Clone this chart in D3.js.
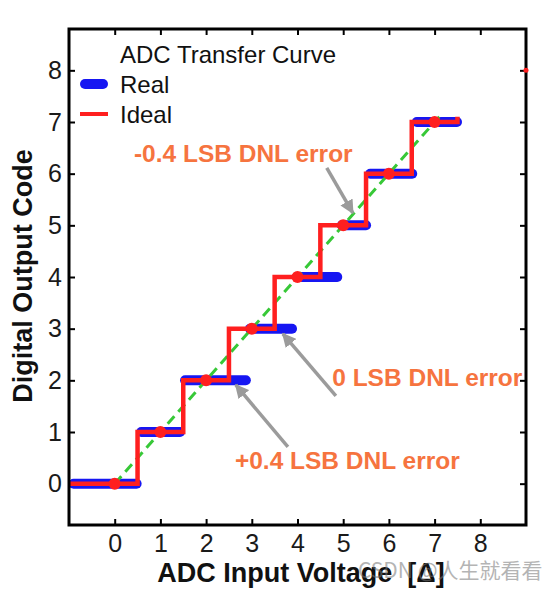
<!DOCTYPE html>
<html>
<head>
<meta charset="utf-8">
<script src="https://cdn.jsdelivr.net/npm/d3@7"></script>
<style>
  body { margin: 0; background: #fff; }
  text { font-family: "Liberation Sans", Arial, sans-serif; }
</style>
</head>
<body>
<svg id="chart" width="542" height="590"></svg>
<script>
// codes and where the real converter holds each one
const codes = [0, 1, 2, 3, 4, 5, 6, 7];
const realStart = [-0.9, 0.58, 1.54, 2.96, 3.99, 4.97, 5.59, 6.61];
const realEnd = [0.48, 1.43, 2.87, 3.88, 4.87, 5.50, 6.51, 7.49];
// ideal transition levels (half LSB)
const idealEdges = [-1, 0.5, 1.5, 2.5, 3.5, 4.5, 5.5, 6.5, 7.5];
const idealTailTop = 7.1;
const idealOffPoint = [9, 8];
const diagonal = [0, 7.15];
const xTicks = [0, 1, 2, 3, 4, 5, 6, 7, 8];
const yTicks = [0, 1, 2, 3, 4, 5, 6, 7, 8];

const notes = ["-0.4 LSB DNL error", "0 LSB DNL error", "+0.4 LSB DNL error"];
const noteX = [0.42, 4.76, 2.63];
const noteY = [6.23, 1.89, 0.285];
const arrowFrom = [[4.64, 6.11], [4.84, 1.70], [3.79, 0.71]];
const arrowTo = [[5.21, 5.24], [3.68, 2.90], [2.65, 1.91]];

const PLOT = { LEFT: 69, RIGHT: 526, TOP: 29, BOTTOM: 525 };
const ORANGE = "#f6743f";
const BLUE = "#1616f2";
const RED = "#ff1f1f";

let svg = d3.select("#chart");

let xScale = d3.scaleLinear().domain([-1, 9]).range([PLOT.LEFT, PLOT.RIGHT]);
let yScale = d3.scaleLinear().domain([-0.8, 8.8]).range([PLOT.BOTTOM, PLOT.TOP]);

svg.append("defs").append("marker")
   .attr("id", "head")
   .attr("viewBox", "0 0 10 10")
   .attr("refX", 9).attr("refY", 5)
   .attr("markerWidth", 4).attr("markerHeight", 4)
   .attr("markerUnits", "strokeWidth")
   .attr("orient", "auto")
   .append("path")
   .attr("d", "M0,0 L10,5 L0,10 z")
   .attr("fill", "#9b9b9b");

// axes, ticks pointing inward on all four sides
svg.append("g")
   .attr("transform", "translate(0," + PLOT.BOTTOM + ")")
   .call(d3.axisBottom(xScale).tickValues(xTicks).tickSize(-6).tickPadding(9));
svg.append("g")
   .attr("transform", "translate(" + PLOT.LEFT + ",0)")
   .call(d3.axisLeft(yScale).tickValues(yTicks).tickSize(-6).tickPadding(7));
svg.append("g")
   .attr("transform", "translate(0," + PLOT.TOP + ")")
   .call(d3.axisTop(xScale).tickValues(xTicks).tickSize(-6).tickFormat(""));
svg.append("g")
   .attr("transform", "translate(" + PLOT.RIGHT + ",0)")
   .call(d3.axisRight(yScale).tickValues(yTicks).tickSize(-6).tickFormat(""));

svg.selectAll(".domain").remove();
svg.selectAll(".tick line").attr("stroke", "#000").attr("stroke-width", 2);
svg.selectAll(".tick text")
   .attr("font-size", 25)
   .attr("fill", "#1a1a1a")
   .style("font-family", "'Liberation Sans', Arial, sans-serif");

// real transfer curve: thick blue runs of circle markers
svg.append("g").selectAll("line")
   .data(codes)
   .join("line")
   .attr("x1", (d, i) => xScale(realStart[i]))
   .attr("x2", (d, i) => xScale(realEnd[i]))
   .attr("y1", d => yScale(d))
   .attr("y2", d => yScale(d))
   .attr("stroke", BLUE)
   .attr("stroke-width", 10)
   .attr("stroke-linecap", "round");

// ideal diagonal
svg.append("line")
   .attr("x1", xScale(diagonal[0])).attr("y1", yScale(diagonal[0]))
   .attr("x2", xScale(diagonal[1])).attr("y2", yScale(diagonal[1]))
   .attr("stroke", "#37c837")
   .attr("stroke-width", 3)
   .attr("stroke-dasharray", "10,6");

// ideal staircase
let stairs = [];
codes.forEach(function(k) {
  stairs.push([idealEdges[k], k]);
  stairs.push([idealEdges[k + 1], k]);
});
stairs.push([idealEdges[idealEdges.length - 1], idealTailTop]);

let stepLine = d3.line()
   .x(d => xScale(d[0]))
   .y(d => yScale(d[1]));

svg.append("path")
   .attr("d", stepLine(stairs))
   .attr("fill", "none")
   .attr("stroke", RED)
   .attr("stroke-width", 4.5)
   .attr("stroke-linejoin", "miter");

svg.append("g").selectAll("circle")
   .data(codes)
   .join("circle")
   .attr("cx", d => xScale(d))
   .attr("cy", d => yScale(d))
   .attr("r", 6)
   .attr("fill", RED);

// frame
svg.append("rect")
   .attr("x", PLOT.LEFT).attr("y", PLOT.TOP)
   .attr("width", PLOT.RIGHT - PLOT.LEFT)
   .attr("height", PLOT.BOTTOM - PLOT.TOP)
   .attr("fill", "none")
   .attr("stroke", "#000")
   .attr("stroke-width", 3);

svg.append("circle")
   .attr("cx", xScale(idealOffPoint[0]))
   .attr("cy", yScale(idealOffPoint[1]))
   .attr("r", 2.5)
   .attr("fill", RED);

// annotations
svg.append("g").selectAll("line")
   .data(arrowFrom)
   .join("line")
   .attr("x1", d => xScale(d[0]))
   .attr("y1", d => yScale(d[1]))
   .attr("x2", (d, i) => xScale(arrowTo[i][0]))
   .attr("y2", (d, i) => yScale(arrowTo[i][1]))
   .attr("stroke", "#9b9b9b")
   .attr("stroke-width", 3.5)
   .attr("marker-end", "url(#head)");

svg.append("g").selectAll("text")
   .data(notes)
   .join("text")
   .attr("x", (d, i) => xScale(noteX[i]))
   .attr("y", (d, i) => yScale(noteY[i]))
   .attr("font-size", 24.5)
   .attr("font-weight", "bold")
   .attr("fill", ORANGE)
   .text(d => d);

// legend
let legend = svg.append("g");
legend.append("text")
   .attr("x", 120).attr("y", 63)
   .attr("font-size", 24)
   .attr("fill", "#111")
   .text("ADC Transfer Curve");
legend.append("line")
   .attr("x1", 85).attr("x2", 103)
   .attr("y1", 84).attr("y2", 84)
   .attr("stroke", BLUE).attr("stroke-width", 10)
   .attr("stroke-linecap", "round");
legend.append("text")
   .attr("x", 120).attr("y", 93)
   .attr("font-size", 24)
   .attr("fill", "#111")
   .text("Real");
legend.append("line")
   .attr("x1", 80).attr("x2", 108)
   .attr("y1", 114).attr("y2", 114)
   .attr("stroke", RED).attr("stroke-width", 4);
legend.append("text")
   .attr("x", 120).attr("y", 123)
   .attr("font-size", 24)
   .attr("fill", "#111")
   .text("Ideal");

// axis titles
svg.append("text")
   .attr("x", 301).attr("y", 582)
   .attr("text-anchor", "middle")
   .attr("font-size", 27)
   .attr("font-weight", "bold")
   .attr("fill", "#111")
   .attr("xml:space", "preserve")
   .text("ADC Input Voltage  [\u0394]");

svg.append("text")
   .attr("transform", "translate(32,276) rotate(-90)")
   .attr("text-anchor", "middle")
   .attr("font-size", 27)
   .attr("font-weight", "bold")
   .attr("fill", "#111")
   .text("Digital Output Code");

// watermark (overlaps the axis title in the source too)
svg.append("text")
   .attr("x", 358).attr("y", 578)
   .attr("font-size", 21)
   .attr("fill", "#777")
   .attr("opacity", 0.55)
   .style("font-family", "'Noto Sans CJK SC', sans-serif")
   .text("CSDN @人生就看看");
</script>
</body>
</html>
